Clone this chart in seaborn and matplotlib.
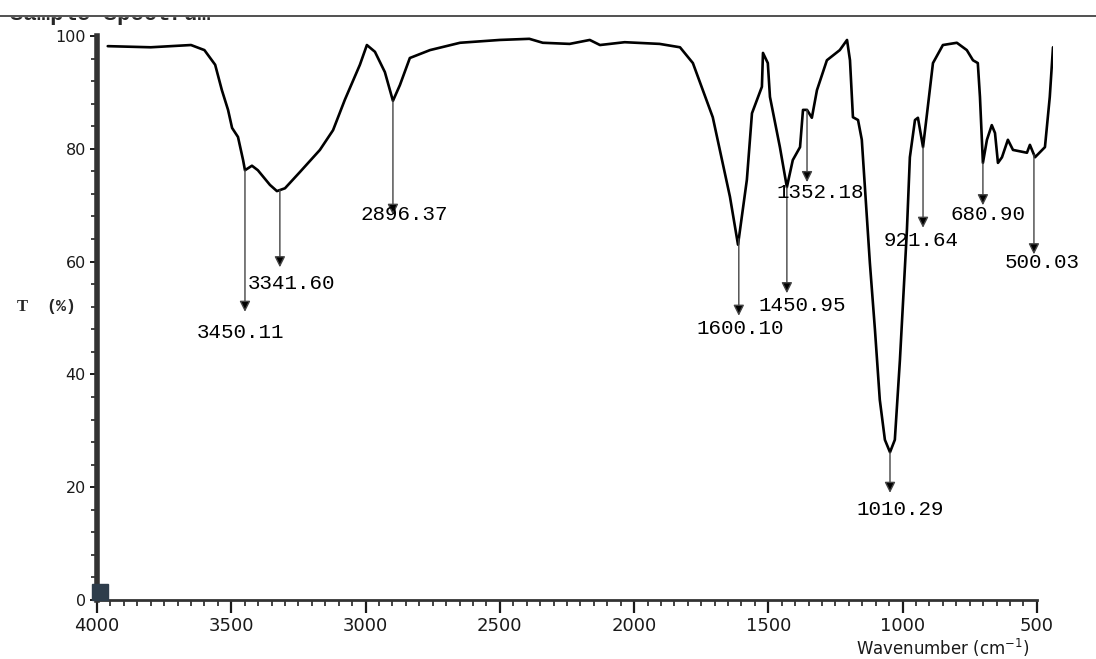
import numpy as np
import pandas as pd
import matplotlib
matplotlib.use("Agg")
import matplotlib.pyplot as plt
from matplotlib.patches import Rectangle
from matplotlib.lines import Line2D
from matplotlib.ticker import MultipleLocator, FixedLocator
import seaborn as sns

# Spectrum (wavenumber in cm-1, transmittance in %)
wavenumber = [3960, 3800, 3650, 3600, 3560, 3535, 3512, 3497, 3475, 3456,
              3449, 3423, 3401, 3356, 3330, 3300, 3244, 3170, 3121, 3077,
              3021, 2995, 2965, 2928, 2898, 2872, 2835, 2760, 2648, 2500,
              2390, 2340, 2240, 2165, 2127, 2035, 1905, 1829, 1781, 1707,
              1643, 1613, 1580, 1561, 1524, 1520, 1502, 1494, 1457, 1431,
              1409, 1382, 1371, 1356, 1338, 1319, 1282, 1234, 1207, 1196,
              1185, 1166, 1152, 1122, 1103, 1085, 1066, 1047, 1029, 1010,
              984, 973, 954, 943, 924, 909, 887, 850, 798, 761,
              738, 720, 712, 701, 686, 668, 656, 645, 630, 608,
              589, 537, 526, 507, 470, 452, 440]
transmittance = [98.2, 98.0, 98.4, 97.5, 94.9, 90.4, 86.9, 83.7, 82.1, 78.0,
                 76.2, 77.0, 76.2, 73.6, 72.5, 73.0, 75.9, 79.8, 83.3, 88.7,
                 94.9, 98.4, 97.2, 93.6, 88.5, 91.3, 96.1, 97.5, 98.8, 99.3,
                 99.5, 98.8, 98.6, 99.3, 98.4, 98.9, 98.6, 98.0, 95.2, 85.6,
                 71.5, 63.0, 74.5, 86.3, 91.0, 97.0, 95.2, 89.2, 80.3, 73.2,
                 78.0, 80.3, 86.9, 86.9, 85.5, 90.4, 95.7, 97.5, 99.3, 95.7,
                 85.6, 85.1, 81.6, 59.8, 47.9, 35.5, 28.4, 26.2, 28.4, 42.6,
                 65.6, 78.5, 85.1, 85.5, 80.3, 86.3, 95.2, 98.4, 98.8, 97.5,
                 95.7, 95.2, 89.2, 77.5, 81.6, 84.2, 82.8, 77.5, 78.5, 81.6,
                 79.8, 79.3, 80.7, 78.5, 80.3, 89.2, 98.0]

# Marked peaks: where the arrow sits on the curve and the printed value
peak_pos = [3449, 3319, 2898, 1610, 1431, 1356, 1047, 924, 701, 511]
peak_labels = ["3450.11", "3341.60", "2896.37", "1600.10", "1450.95",
               "1352.18", "1010.29", "921.64", "680.90", "500.03"]

# layout of the annotations: arrow tip (T), label centre (wavenumber, T)
arrow_tip = [51.1, 59.0, 68.3, 50.4, 54.4, 74.1, 19.0, 66.0, 70.0, 61.3]
label_x = [3464, 3274, 2857, 1606, 1375, 1308, 1010, 932, 682, 481]
label_y = [47.5, 56.2, 68.3, 48.2, 52.3, 72.2, 16.0, 63.8, 68.3, 59.9]

df = pd.DataFrame({"wavenumber": wavenumber, "T": transmittance})

sns.set_style("ticks")
plt.rcParams["font.family"] = ["DejaVu Sans"]

fig = plt.figure(figsize=(10.96, 6.59), dpi=100)
ax = fig.add_axes([97 / 1096, 1 - 600 / 659, 956 / 1096, 564 / 659])

sns.lineplot(data=df, x="wavenumber", y="T", ax=ax, color="black",
             linewidth=1.9, estimator=None, sort=False)

ax.set_xlim(4000, 440)
ax.set_ylim(0, 100)
ax.set_xlabel("")
ax.set_ylabel("")

ax.set_xticks(np.arange(4000, 499, -500))
ax.xaxis.set_minor_locator(FixedLocator(np.arange(4000, 499, -50)))
ax.yaxis.set_major_locator(MultipleLocator(20))
ax.yaxis.set_minor_locator(MultipleLocator(4))
ax.tick_params(axis="x", which="major", length=9, width=1.6, labelsize=13,
               colors="#1a1a1a", pad=3)
ax.tick_params(axis="x", which="minor", length=4, width=1.2, colors="#222222")
ax.tick_params(axis="y", which="major", length=5, width=1.4, labelsize=11.5,
               colors="#1a1a1a", pad=3)
ax.tick_params(axis="y", which="minor", length=4, width=1.2, colors="#222222")

for side in ["top", "right"]:
    ax.spines[side].set_visible(False)
ax.spines["left"].set_linewidth(4)
ax.spines["left"].set_color("#333333")
ax.spines["bottom"].set_linewidth(2)
ax.spines["bottom"].set_color("#333333")
ax.spines["bottom"].set_bounds(500, 4000)

# little square at the origin
ax.plot([3988], [1.5], marker="s", markersize=11, color="#2e3d4b",
        clip_on=False, zorder=5)

mono = ["Liberation Mono", "DejaVu Sans Mono"]
for pos, lab, tip, lx, ly in zip(peak_pos, peak_labels, arrow_tip, label_x, label_y):
    start = np.interp(pos, wavenumber[::-1], transmittance[::-1])
    ax.annotate("", xy=(pos, tip), xytext=(pos, start),
                arrowprops=dict(arrowstyle="-|>", color="#444444", fc="black",
                                lw=1.0, mutation_scale=16, shrinkA=0, shrinkB=0))
    ax.text(lx, ly, lab, family=mono, fontsize=15, color="black",
            ha="center", va="center")

# axis titles
fig.text(22 / 1096, 1 - 307 / 659, "T", family=["Liberation Serif"],
         weight="bold", fontsize=12, ha="center", va="center")
fig.text(61 / 1096, 1 - 307 / 659, "(%)", family=mono, fontsize=12,
         weight="bold", ha="center", va="center")
fig.text(943 / 1096, 1 - 648 / 659, "Wavenumber (cm$^{-1}$)", fontsize=12,
         color="#1a1a1a", ha="center", va="center")

# clipped title at the top, with the rule drawn across it
fig.text(10 / 1096, 1 - 20 / 659, "Sample Spectrum", family=mono,
         weight="bold", fontsize=16, ha="left", va="baseline")
fig.add_artist(Rectangle((0, 1 - 15.5 / 659), 1, 15.5 / 659,
                         transform=fig.transFigure, color="white", zorder=10))
fig.add_artist(Line2D([0, 1], [1 - 15.5 / 659] * 2, transform=fig.transFigure,
                      color="#333333", lw=1.2, zorder=11))

fig.savefig("out.png", dpi=100)
